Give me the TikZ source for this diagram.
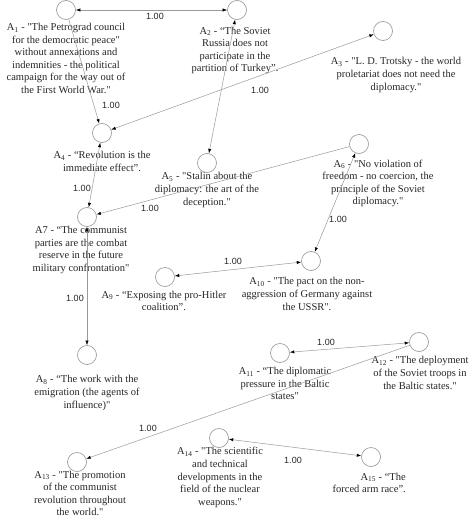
\documentclass[tikz,border=0pt]{standalone}
\usepackage{fontspec}
\setmainfont{Liberation Serif}[Ligatures=TeXOff]
\newfontfamily\labfont{Liberation Sans}
\usetikzlibrary{arrows.meta}
\begin{document}
\begin{tikzpicture}[x=1pt,y=-1pt,
  vert/.style={circle,draw=gray!85,line width=0.6pt,minimum size=19pt,inner sep=0pt},
  txt/.style={align=center,font=\fontsize{10.5}{12.6}\selectfont,inner sep=0pt,text=black!85},
  wt/.style={font=\labfont\fontsize{9}{10}\selectfont,inner sep=0pt,text=black!85},
  edge/.style={draw=gray!80,line width=0.5pt},
  tip/.style={-{Latex[length=4.5pt,width=3.2pt,black]}},
  tips/.style={{Latex[length=4.5pt,width=3.2pt,black]}-{Latex[length=4.5pt,width=3.2pt,black]}}]
\path[use as bounding box,fill=white] (0,0) rectangle (474,519);
% vertices
\node[vert] (a1) at (66,10) {};
\node[vert] (a2) at (237,10) {};
\node[vert] (a3) at (383,31) {};
\node[vert] (a4) at (102,133) {};
\node[vert] (a5) at (207,163) {};
\node[vert] (a6) at (359,144) {};
\node[vert] (a7) at (87,217) {};
\node[vert] (a8) at (87,355) {};
\node[vert] (a9) at (165,277) {};
\node[vert] (a10) at (311,261) {};
\node[vert] (a11) at (280,353) {};
\node[vert] (a12) at (419,342) {};
\node[vert] (a13) at (77,462) {};
\node[vert] (a14) at (219,438) {};
\node[vert] (a15) at (371,457) {};
% texts
\node[txt] (t1) at (66,58.5) {A\textsubscript{1} - "The Petrograd council\\for the democratic peace"\\without annexations and\\indemnities - the political\\campaign for the way out of\\the First World War."};
\node[txt] (t2) at (235,50.5) {A\textsubscript{2} - “The Soviet\\Russia does not\\participate in the\\partition of Turkey”.};
\node[txt] (t3) at (396,75) {A\textsubscript{3} - "L. D. Trotsky - the world\\proletariat does not need the\\diplomacy."};
\node[txt] (t4) at (102,161.5) {A\textsubscript{4} - “Revolution is the\\immediate effect”.};
\node[txt] (t5) at (207,190) {A\textsubscript{5} - "Stalin about the\\diplomacy: the art of the\\deception."};
\node[txt] (t6) at (378,183.5) {A\textsubscript{6} - "No violation of\\freedom - no coercion, the\\principle of the Soviet\\diplomacy."};
\node[txt] (t7) at (81,250) {A7 - “The communist\\parties are the combat\\reserve in the future\\military confrontation"};
\node[txt] (t8) at (87,393) {A\textsubscript{8} - “The work with the\\emigration (the agents of\\influence)"};
\node[txt] (t9) at (164,301) {A\textsubscript{9} - “Exposing the pro-Hitler\\coalition”.};
\node[txt] (t10) at (307,294) {A\textsubscript{10} - "The pact on the non-\\aggression of Germany against\\the USSR".};
\node[txt] (t11) at (285,383.5) {A\textsubscript{11} - “The diplomatic\\pressure in the Baltic\\states"};
\node[txt] (t12) at (420,373) {A\textsubscript{12} - "The deployment\\of the Soviet troops in\\the Baltic states."};
\node[txt] (t13) at (80,493.5) {A\textsubscript{13} - "The promotion\\of the communist\\revolution throughout\\the world."};
\node[txt] (t14) at (220,477.5) {A\textsubscript{14} - "The scientific\\and technical\\developments in the\\field of the nuclear\\weapons."};
\node[txt,align=right,anchor=east] (t15) at (406,483) {A\textsubscript{15} - “The\\forced arm race”.};
% edges
\draw[edge,tips] (a1) -- (a2);
\draw[edge,tip] (a1) -- (a4);
\draw[edge,tips] (a4) -- (a3);
\draw[edge,tips] (a2) -- (a5);
\draw[edge,tips] (a4) -- (a7);
\draw[edge,tip] (a6) -- (a7);
\draw[edge,tips] (a7) -- (a8);
\draw[edge,tips] (a10) -- (a6);
\draw[edge,tips] (a9) -- (a10);
\draw[edge,tips] (a11) -- (a12);
\draw[edge,tip] (a12) -- (a13);
\draw[edge,tips] (a14) -- (a15);
% weights
\node[wt] (w1) at (155,16) {1.00};
\node[wt] (w2) at (111,105) {1.00};
\node[wt] (w3) at (260,90) {1.00};
\node[wt] (w4) at (82,188) {1.00};
\node[wt] (w5) at (150,208) {1.00};
\node[wt] (w6) at (75,298) {1.00};
\node[wt] (w7) at (338,219) {1.00};
\node[wt] (w8) at (233,261) {1.00};
\node[wt] (w9) at (326,342) {1.00};
\node[wt] (w10) at (148,428) {1.00};
\node[wt] (w11) at (293,460) {1.00};
\end{tikzpicture}
\end{document}
